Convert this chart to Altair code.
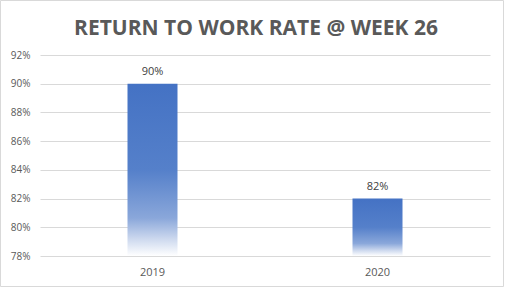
import altair as alt
import pandas as pd

years = ["2019", "2020"]
rates = [0.90, 0.82]
y_ticks = [0.78, 0.80, 0.82, 0.84, 0.86, 0.88, 0.90, 0.92]

df = pd.DataFrame({"year": years, "rate": rates})

grad = alt.LinearGradient(
    gradient="linear",
    x1=0, x2=0, y1=0, y2=1,
    stops=[
        alt.GradientStop(offset=0, color="#4472C4"),
        alt.GradientStop(offset=0.5, color="#5580CA"),
        alt.GradientStop(offset=0.78, color="#8AA7DA"),
        alt.GradientStop(offset=0.9, color="#CCD8EE"),
        alt.GradientStop(offset=1, color="#FFFFFF"),
    ],
)

x_enc = alt.X("year:N", title=None, sort=years,
              scale=alt.Scale(paddingInner=0, paddingOuter=0),
              axis=alt.Axis(labelAngle=0, domain=False, ticks=False, grid=False, labelPadding=10,
                            labelColor="#595959", labelFontSize=11, labelFont="Open Sans"))
y_enc = alt.Y("rate:Q", title=None,
              scale=alt.Scale(domain=[0.78, 0.92], zero=False, nice=False),
              axis=alt.Axis(values=y_ticks, format=".0%", domain=False, ticks=False,
                            labelOverlap=False, labelPadding=10, gridColor="#D9D9D9",
                            labelColor="#595959", labelFontSize=10, labelFont="Open Sans"))

base = alt.Chart(df)

bars = base.mark_bar(size=50, color=grad).encode(
    x=x_enc,
    y=y_enc,
    y2=alt.datum(0.78),
)

labels = base.mark_text(baseline="bottom", dy=-7, font="Open Sans", fontSize=11,
                        color="#404040").encode(
    x=x_enc,
    y=y_enc,
    text=alt.Text("rate:Q", format=".0%"),
)

border = alt.Chart(pd.DataFrame({"a": [0]})).mark_rect(
    fill=None, stroke="#D9D9D9", strokeWidth=1
).encode(
    x=alt.value(-39.5), x2=alt.value(463.5), y=alt.value(-54.5), y2=alt.value(231.5)
)

chart = alt.layer(border, bars, labels).properties(
    width=450,
    height=201,
    autosize=alt.AutoSizeParams(type="none"),
    padding={"left": 40, "top": 55, "right": 15, "bottom": 32},
    title=alt.TitleParams(
        "RETURN TO WORK RATE @ WEEK 26",
        font="Open Sans", fontSize=21, fontWeight="bold", color="#595959",
        anchor="middle", offset=-39, dx=-9,
    ),
).configure(background="white").configure_view(stroke=None)

chart.save("out.html", embed_options={"renderer": "svg", "actions": False})
